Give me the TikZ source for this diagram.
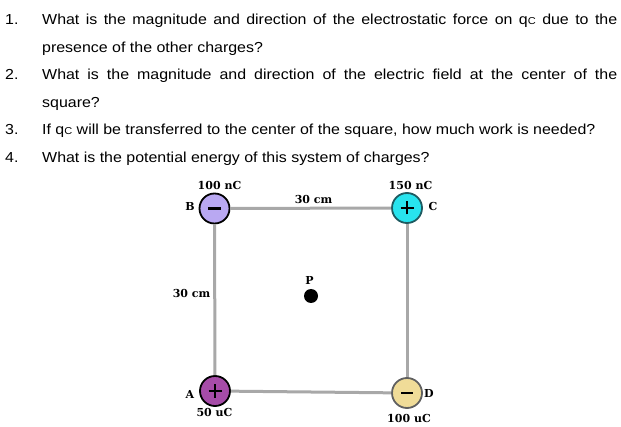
\documentclass[tikz,border=0pt]{standalone}
\usepackage{fontspec}
\setmainfont{Liberation Sans}[FakeStretch=1.1]
\newfontfamily\lblfont{DejaVu Serif}
\definecolor{lineg}{HTML}{A8A8A8}
\definecolor{bfill}{HTML}{B9A8F2}
\definecolor{cfill}{HTML}{28E4EE}
\definecolor{cbord}{HTML}{1E5A60}
\definecolor{afill}{HTML}{A64CA8}
\definecolor{dfill}{HTML}{F0DC98}
\definecolor{dbord}{HTML}{606060}
\newcommand{\qcsub}{q{\fontsize{10}{12}\selectfont C}}
\begin{document}
\begin{tikzpicture}[x=1pt,y=-1pt,
  qline/.style={anchor=base west,inner sep=0pt,font=\fontsize{14.5}{16}\selectfont},
  lbl/.style={anchor=base,inner sep=0pt,font=\lblfont\bfseries\fontsize{11}{13}\selectfont},
  charge/.style={circle,minimum size=30pt,inner sep=0pt,line width=1.8pt,draw=black},
  sym/.style={line width=2.6pt,draw=black},
  side/.style={draw=lineg,line width=3pt}]
\useasboundingbox (0,0) rectangle (621,427);
% questions
\node[qline] (n1) at (5,25) {1.};
\node[qline] (t1) at (42,25) {\makebox[575pt][s]{What is the magnitude and direction of the electrostatic force on \qcsub{} due to the}};
\node[qline] (t1b) at (42,53) {presence of the other charges?};
\node[qline] (n2) at (5,80) {2.};
\node[qline] (t2) at (42,80) {\makebox[575pt][s]{What is the magnitude and direction of the electric field at the center of the}};
\node[qline] (t2b) at (42,108) {square?};
\node[qline] (n3) at (5,135) {3.};
\node[qline] (t3) at (42,135) {If \qcsub{} will be transferred to the center of the square, how much work is needed?};
\node[qline] (n4) at (5,163) {4.};
\node[qline] (t4) at (42,163) {What is the potential energy of this system of charges?};
% charges
\node[charge,fill=bfill] (qB) at (214.5,208.5) {};
\node[charge,fill=cfill,draw=cbord] (qC) at (407,208) {};
\node[charge,fill=afill,draw=black] (qA) at (215,391) {};
\node[charge,fill=dfill,draw=dbord] (qD) at (407,393) {};
% signs
\draw[sym] ([xshift=-6.5pt]qB.center) -- ([xshift=6.5pt]qB.center);
\draw[sym] ([xshift=-6.5pt]qC.center) -- ([xshift=6.5pt]qC.center);
\draw[sym] ([yshift=-6.5pt]qC.center) -- ([yshift=6.5pt]qC.center);
\draw[sym] ([xshift=-6.5pt]qA.center) -- ([xshift=6.5pt]qA.center);
\draw[sym] ([yshift=-6.5pt]qA.center) -- ([yshift=6.5pt]qA.center);
\draw[sym] ([xshift=-6pt]qD.center) -- ([xshift=6pt]qD.center);
% sides
\draw[side] (qB) -- (qC);
\draw[side] (qB) -- (qA);
\draw[side] (qC) -- (qD);
\draw[side] (qA) -- (qD);
% center point
\node[circle,fill=black,minimum size=14pt,inner sep=0pt] (P) at (311,296) {};
% labels
\node[lbl] (lB) at (219.5,190) {100 nC};
\node[lbl] (lC) at (410.5,190) {150 nC};
\node[lbl] (top) at (313.5,204) {30 cm};
\node[lbl] (nB) at (190,211) {B};
\node[lbl] (nC) at (433,211) {C};
\node[lbl] (left) at (191.5,298) {30 cm};
\node[lbl] (nP) at (309.5,285) {P};
\node[lbl] (nA) at (190,399) {A};
\node[lbl] (lA) at (214.5,417) {50 uC};
\node[lbl] (nD) at (429,397) {D};
\node[lbl] (lD) at (409,422) {100 uC};
\end{tikzpicture}
\end{document}
